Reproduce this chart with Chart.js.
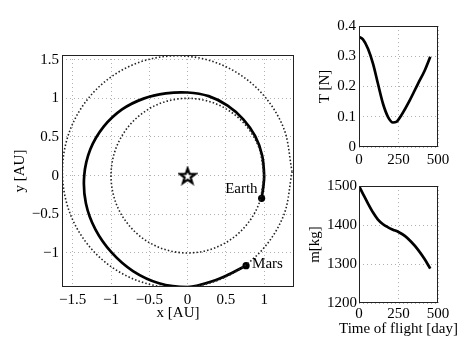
<!DOCTYPE html>
<html><head><meta charset="utf-8">
<script src="https://cdn.jsdelivr.net/npm/chart.js@4.4.1/dist/chart.umd.min.js"></script>
<style>
html,body{margin:0;padding:0;background:#fff;width:474px;height:355px;overflow:hidden;}
canvas{position:absolute;}
</style></head><body>
<canvas id="c1" width="305" height="340" style="left:0px;top:0px"></canvas>
<canvas id="c2" width="164" height="175" style="left:310px;top:0px"></canvas>
<canvas id="c3" width="174" height="180" style="left:300px;top:175px"></canvas>
<script>
// ---------- data ----------
const orbitXTicks = [-1.5, -1, -0.5, 0, 0.5, 1];
const orbitYTicks = [-1, -0.5, 0, 0.5, 1, 1.5];
const earthOrbit = [[1,0],[0.924,0.383],[0.707,0.707],[0.383,0.924],[0,1],[-0.383,0.924],[-0.707,0.707],[-0.924,0.383],[-1,0],[-0.924,-0.383],[-0.707,-0.707],[-0.383,-0.924],[0,-1],[0.383,-0.924],[0.707,-0.707],[0.924,-0.383],[1,0]];
const marsOrbit = [[1.365,0.05],[1.251,0.624],[0.926,1.111],[0.439,1.436],[-0.135,1.55],[-0.709,1.436],[-1.196,1.111],[-1.521,0.624],[-1.635,0.05],[-1.521,-0.524],[-1.196,-1.011],[-0.709,-1.336],[-0.135,-1.45],[0.439,-1.336],[0.926,-1.011],[1.251,-0.524],[1.365,0.05]];
const trajectory = [[0.967,-0.293],[0.990,-0.139],[1.0,0.0],[0.974,0.261],[0.883,0.51],[0.728,0.728],[0.523,0.905],[0.276,1.028],[0.0,1.075],[-0.285,1.063],[-0.575,0.996],[-0.856,0.856],[-1.096,0.633],[-1.270,0.340],[-1.35,0.0],[-1.328,-0.356],[-1.204,-0.695],[-0.993,-0.993],[-0.713,-1.234],[-0.373,-1.391],[0.0,-1.44],[0.362,-1.352],[0.585,-1.255],[0.764,-1.164]];
const bodyNames = ['Earth', 'Mars'];
const bodyPositions = [[0.967,-0.293],[0.764,-1.164]];
const sunPosition = [[0,0]];

const timeTicks = [0, 250, 500];
const thrustTicks = [0, 0.1, 0.2, 0.3, 0.4];
const massTicks = [1200, 1300, 1400, 1500];
const thrustDays = [0, 25, 57, 89, 120, 152, 184, 215, 236, 268, 321, 373, 416, 451];
const thrustN = [0.364, 0.356, 0.325, 0.275, 0.209, 0.143, 0.099, 0.081, 0.083, 0.105, 0.154, 0.209, 0.253, 0.298];
const massDays = [0, 25, 57, 89, 120, 152, 184, 215, 250, 290, 330, 373, 416, 451];
const massKg = [1500, 1480, 1455, 1432, 1414, 1402, 1394, 1388, 1382, 1372, 1357, 1337, 1312, 1288];

// ---------- helpers ----------
const FONT = 'Liberation Serif';
const pts = arr => arr.map(p => ({x: p[0], y: p[1]}));
const zip = (xs, ys) => xs.map((x, i) => ({x, y: ys[i]}));
const fmt = v => String(v).replace('-', '\u2212');

const boxPlugin = {
  id: 'box',
  afterDatasetsDraw(chart) {
    const {ctx, chartArea: a} = chart;
    ctx.save();
    ctx.strokeStyle = '#222';
    ctx.lineWidth = 1;
    const l = Math.round(a.left) + 0.5, t = Math.round(a.top) + 0.5;
    const r = Math.round(a.right) - 0.5, b = Math.round(a.bottom) - 0.5;
    ctx.strokeRect(l, t, r - l, b - t);
    ctx.restore();
  }
};

function makeAxis(o) {
  return {
    type: 'linear',
    min: o.min, max: o.max,
    afterBuildTicks: s => { s.ticks = o.ticks.map(v => ({value: v})); },
    afterFit: s => { if (o.horizontal) s.height = o.size; else s.width = o.size; },
    grid: {color: '#b0b0b0', lineWidth: 1, drawTicks: false},
    border: {display: false, dash: [1, 3]},
    ticks: {font: {family: FONT, size: 15}, color: '#000', padding: o.tickPad,
            autoSkip: false, maxRotation: 0, callback: v => fmt(v)},
    title: {display: !!o.title, text: o.title, color: '#000', font: {family: FONT, size: 15},
            padding: o.titlePad}
  };
}

function starCanvas() {
  const c = document.createElement('canvas');
  c.width = 20; c.height = 20;
  const g = c.getContext('2d');
  g.beginPath();
  for (let i = 0; i < 10; i++) {
    const r = i % 2 ? 3.2 : 8.0;
    const ang = -Math.PI / 2 + i * Math.PI / 5;
    g.lineTo(10 + r * Math.cos(ang), 10.8 + r * Math.sin(ang));
  }
  g.closePath();
  g.fillStyle = '#fff'; g.fill();
  g.lineWidth = 2.2; g.strokeStyle = '#000'; g.lineJoin = 'miter'; g.stroke();
  return c;
}

const labelPlugin = {
  id: 'bodyLabels',
  afterDatasetsDraw(chart) {
    const {ctx} = chart;
    const xs = chart.scales.x, ys = chart.scales.y;
    const offsets = [{dx: -4, dy: -9, align: 'right'}, {dx: 6, dy: -2, align: 'left'}];
    ctx.save();
    ctx.font = '15px "' + FONT + '"';
    ctx.fillStyle = '#000';
    ctx.textBaseline = 'middle';
    bodyNames.forEach((name, i) => {
      const px = xs.getPixelForValue(bodyPositions[i][0]);
      const py = ys.getPixelForValue(bodyPositions[i][1]);
      ctx.textAlign = offsets[i].align;
      ctx.fillText(name, px + offsets[i].dx, py + offsets[i].dy);
    });
    ctx.restore();
  }
};

// draws a wide x-axis title centred under the plot without shrinking it
const wideTitlePlugin = {
  id: 'wideTitle',
  afterDraw(chart, args, opts) {
    const {ctx, chartArea: a} = chart;
    ctx.save();
    ctx.font = '15px "' + FONT + '"';
    ctx.fillStyle = '#000';
    ctx.textAlign = 'center';
    ctx.textBaseline = 'middle';
    ctx.fillText(opts.text, (a.left + a.right) / 2, a.bottom + opts.offset);
    ctx.restore();
  }
};

const common = {
  responsive: false, animation: false, devicePixelRatio: 1
};

// ---------- main orbit chart ----------
new Chart(document.getElementById('c1'), {
  type: 'scatter',
  data: {datasets: [
    {data: pts(marsOrbit), showLine: true, borderColor: '#222', borderWidth: 1.6, borderDash: [1.5, 2.1],
     pointRadius: 0, tension: 0.34, clip: 0},
    {data: pts(earthOrbit), showLine: true, borderColor: '#222', borderWidth: 1.6, borderDash: [1.5, 2.1],
     pointRadius: 0, tension: 0.34, clip: 0},
    {data: pts(trajectory), showLine: true, borderColor: '#000', borderWidth: 2.7,
     pointRadius: 0, tension: 0.34},
    {data: pts(bodyPositions), pointRadius: 3.6, backgroundColor: '#000', borderColor: '#000', borderWidth: 0},
    {data: pts(sunPosition), pointStyle: starCanvas(), pointRadius: 10}
  ]},
  options: Object.assign({}, common, {
    plugins: {legend: {display: false}, tooltip: {enabled: false}},
    layout: {padding: {left: 0, top: 55, right: 9, bottom: 0}},
    scales: {
      x: makeAxis({min: -1.64, max: 1.39, ticks: orbitXTicks, horizontal: true, size: 53,
                   tickPad: 4, title: 'x [AU]', titlePad: {top: 0, bottom: 18}}),
      y: makeAxis({min: -1.44, max: 1.56, ticks: orbitYTicks, horizontal: false, size: 62,
                   tickPad: 3, title: 'y [AU]', titlePad: {top: 11.5, bottom: 0}})
    }
  }),
  plugins: [boxPlugin, labelPlugin]
});

// ---------- thrust chart ----------
new Chart(document.getElementById('c2'), {
  type: 'scatter',
  data: {datasets: [
    {data: zip(thrustDays, thrustN), showLine: true, borderColor: '#000', borderWidth: 2.7,
     pointRadius: 0, cubicInterpolationMode: 'monotone'}
  ]},
  options: Object.assign({}, common, {
    plugins: {legend: {display: false}, tooltip: {enabled: false}},
    layout: {padding: {left: 0, top: 26, right: 36, bottom: 0}},
    scales: {
      x: makeAxis({min: 0, max: 500, ticks: timeTicks, horizontal: true, size: 28,
                   tickPad: 4, title: '', titlePad: 0}),
      y: makeAxis({min: 0, max: 0.4, ticks: thrustTicks, horizontal: false, size: 49,
                   tickPad: 3, title: 'T [N]', titlePad: {top: 6, bottom: 0}})
    }
  }),
  plugins: [boxPlugin]
});

// ---------- mass chart ----------
new Chart(document.getElementById('c3'), {
  type: 'scatter',
  data: {datasets: [
    {data: zip(massDays, massKg), showLine: true, borderColor: '#000', borderWidth: 2.7,
     pointRadius: 0, cubicInterpolationMode: 'monotone'}
  ]},
  options: Object.assign({}, common, {
    plugins: {legend: {display: false}, tooltip: {enabled: false},
              wideTitle: {text: 'Time of flight [day]', offset: 26}},
    layout: {padding: {left: 0, top: 8, right: 36, bottom: 0}},
    scales: {
      x: makeAxis({min: 0, max: 500, ticks: timeTicks, horizontal: true, size: 52,
                   tickPad: 2, title: '', titlePad: 0}),
      y: makeAxis({min: 1200, max: 1500, ticks: massTicks, horizontal: false, size: 59,
                   tickPad: 2, title: 'm[kg]', titlePad: {top: 6, bottom: 0}})
    }
  }),
  plugins: [boxPlugin, wideTitlePlugin]
});
</script>
</body></html>
